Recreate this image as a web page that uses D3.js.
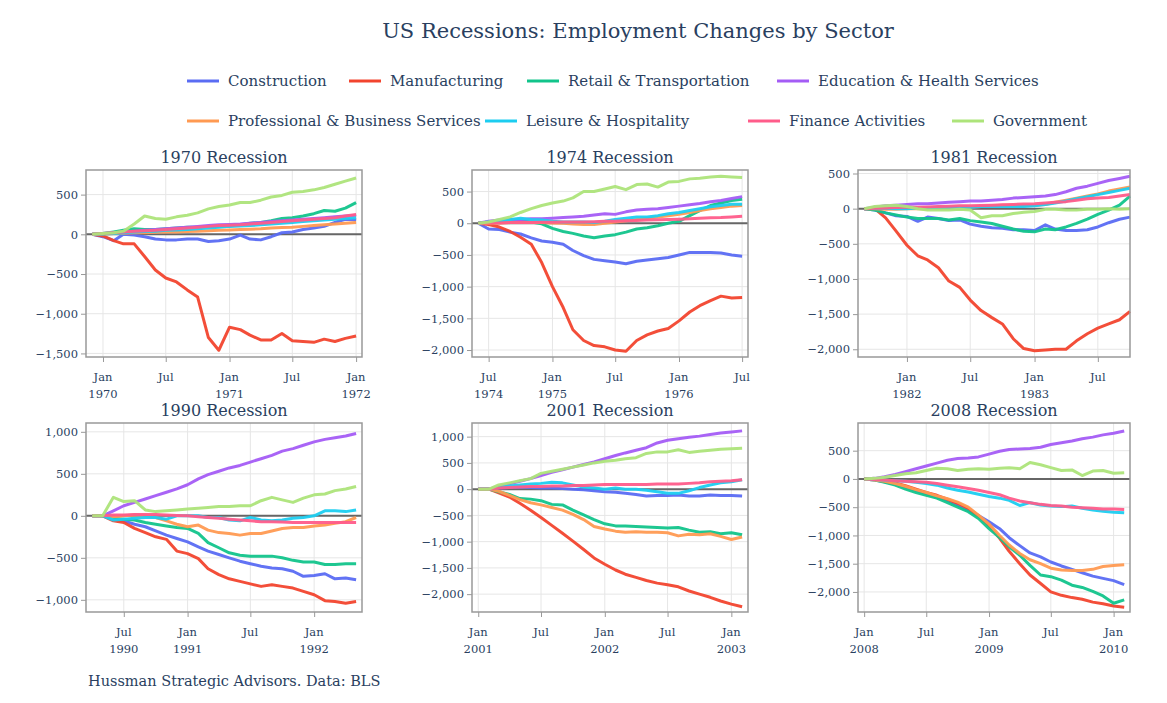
<!DOCTYPE html>
<html><head><meta charset="utf-8">
<script src="https://cdn.jsdelivr.net/npm/d3@7"></script>
<style>body{margin:0;background:#fff}text{font-family:"DejaVu Serif",serif;fill:#2a3f5f}</style>
</head><body><svg id="c" width="1167" height="703"></svg>
<script>
const sectors=["Construction","Manufacturing","Retail & Transportation","Education & Health Services","Professional & Business Services","Leisure & Hospitality","Finance Activities","Government"];
const colors=["#5a6cf3","#f2442e","#12c48b","#a45cf5","#ff9a52","#1ccdf0","#ff5c8a","#ade47a"];
const recessions=["1970 Recession","1974 Recession","1981 Recession","1990 Recession","2001 Recession","2008 Recession"];
const startMonths=["1969-12","1974-06","1981-09","1990-04","2001-01","2008-01"];
const yTicks=[[-1500,-1000,-500,0,500],[-2000,-1500,-1000,-500,0,500],[-2000,-1500,-1000,-500,0,500],[-1000,-500,0,500,1000],[-2000,-1500,-1000,-500,0,500,1000],[-2000,-1500,-1000,-500,0,500]];
const yRanges=[[-1545,810],[-2110,840],[-2110,550],[-1145,1105],[-2340,1260],[-2355,990]];
// values per panel, sector order as above, monthly from start month (26 months)
const r1970=[
[0,-30,-80,0,-10,-30,-60,-70,-70,-60,-60,-90,-80,-60,-10,-60,-70,-30,20,30,60,80,100,150,190,180],
[0,-20,-80,-120,-120,-280,-450,-550,-600,-700,-790,-1300,-1460,-1170,-1200,-1270,-1330,-1330,-1250,-1340,-1350,-1360,-1320,-1350,-1310,-1280],
[0,10,30,50,70,60,60,70,80,90,90,100,100,110,120,140,150,170,200,210,230,260,300,290,330,400],
[0,10,20,30,40,50,60,70,80,90,100,110,120,125,130,140,150,160,170,180,190,200,210,220,230,240],
[0,5,10,15,20,20,25,30,30,35,40,45,50,55,60,65,70,80,85,90,100,110,120,130,140,150],
[0,5,10,20,30,35,40,50,55,60,70,80,90,100,105,110,120,130,140,150,160,170,180,190,200,210],
[0,10,20,30,40,45,50,60,70,80,90,100,110,115,120,130,140,150,160,170,180,190,200,210,230,250],
[0,10,20,40,130,230,200,190,220,240,270,320,350,370,400,400,430,470,490,530,540,560,590,630,670,710]];
const r1974=[
[0,-90,-100,-140,-170,-230,-280,-300,-330,-430,-510,-570,-590,-610,-640,-600,-580,-560,-540,-500,-460,-460,-460,-470,-500,-520],
[0,-20,-60,-130,-220,-330,-620,-1000,-1330,-1680,-1850,-1930,-1950,-2000,-2020,-1850,-1760,-1700,-1660,-1540,-1400,-1300,-1220,-1150,-1180,-1170],
[0,20,30,40,40,20,-10,-80,-130,-160,-200,-230,-200,-180,-140,-90,-70,-40,0,30,120,200,280,320,360,380],
[0,30,50,60,60,70,70,80,90,100,110,130,150,140,180,210,220,230,250,270,290,310,340,360,390,420],
[0,0,5,10,10,10,10,5,0,-10,-20,-20,0,20,40,60,80,100,120,140,170,200,230,250,270,280],
[0,20,40,60,80,60,50,30,20,20,20,10,30,60,80,100,100,120,150,170,200,230,260,280,300,300],
[0,5,5,10,10,10,15,15,20,20,20,25,30,30,40,45,50,55,60,65,70,80,85,90,100,110],
[0,20,60,100,170,230,280,320,350,400,500,500,540,580,530,610,620,570,650,660,700,710,730,740,730,720]];
const r1981=[
[0,-20,-60,-100,-110,-180,-120,-140,-170,-160,-220,-250,-270,-280,-300,-300,-310,-230,-290,-310,-310,-300,-260,-200,-150,-120],
[0,0,-130,-320,-520,-670,-730,-840,-1030,-1120,-1300,-1450,-1550,-1640,-1850,-1990,-2020,-2010,-2000,-2000,-1880,-1780,-1700,-1640,-1580,-1460],
[0,-20,-60,-90,-120,-140,-140,-140,-160,-140,-170,-190,-210,-250,-290,-320,-330,-290,-300,-260,-210,-150,-80,-20,50,180],
[0,20,40,50,60,70,70,80,90,100,110,110,120,130,150,160,170,180,200,240,290,320,360,400,430,460],
[0,0,-10,-10,0,0,0,10,10,20,20,30,40,50,50,40,50,60,90,120,150,180,210,250,280,310],
[0,5,5,0,0,10,10,20,20,20,20,30,30,30,30,30,40,60,80,110,140,170,200,230,260,290],
[0,5,10,15,20,20,25,30,35,40,40,45,50,55,60,65,70,80,90,100,120,140,150,160,180,200],
[0,30,40,50,30,0,-20,-20,-20,-10,-20,-130,-100,-100,-70,-50,-40,-10,-10,-20,-20,-10,-10,0,-10,0]];
const r1990=[
[0,0,-40,-60,-100,-130,-180,-230,-270,-310,-370,-420,-460,-500,-540,-570,-600,-620,-630,-660,-720,-710,-690,-750,-740,-760],
[0,0,-60,-80,-150,-200,-250,-280,-420,-450,-510,-630,-700,-750,-780,-810,-840,-820,-840,-860,-900,-940,-1010,-1020,-1040,-1020],
[0,0,-30,-40,-50,-80,-100,-120,-140,-150,-210,-320,-380,-440,-470,-480,-480,-480,-500,-530,-550,-550,-580,-580,-570,-570],
[0,0,60,120,160,200,240,280,320,370,440,490,530,570,600,640,680,720,770,800,840,880,910,930,950,980],
[0,0,-10,0,10,0,-20,-60,-100,-130,-110,-170,-200,-210,-230,-210,-210,-180,-150,-140,-140,-120,-110,-90,-70,-20],
[0,0,-50,-40,-30,-20,-20,-40,0,0,0,-20,-20,-50,-60,-20,-50,-60,-50,-30,-20,0,60,60,50,70],
[0,0,10,10,15,15,15,10,5,0,-10,-20,-30,-40,-50,-60,-70,-70,-75,-80,-80,-80,-80,-80,-80,-80],
[0,0,220,170,180,70,50,60,70,80,90,100,110,110,120,120,180,220,190,160,210,250,260,300,320,350]];
const r2001=[
[0,0,20,30,40,30,20,20,10,0,-10,-30,-50,-60,-80,-100,-130,-120,-120,-110,-130,-130,-110,-120,-120,-130],
[0,0,-70,-150,-270,-400,-540,-690,-840,-990,-1150,-1310,-1430,-1540,-1620,-1680,-1740,-1790,-1820,-1860,-1940,-2000,-2060,-2130,-2190,-2240],
[0,0,-50,-100,-180,-190,-220,-290,-300,-400,-490,-580,-660,-700,-700,-710,-720,-730,-740,-730,-780,-820,-810,-850,-830,-870],
[0,0,50,100,150,200,260,320,370,420,470,520,580,640,690,740,790,880,930,960,990,1010,1040,1070,1090,1110],
[0,0,-40,-120,-200,-260,-300,-350,-400,-480,-580,-710,-760,-800,-820,-810,-820,-820,-830,-890,-860,-870,-850,-900,-960,-910],
[0,0,30,60,80,100,110,130,120,80,40,20,0,20,0,0,-20,-50,-80,-80,-30,30,80,120,140,180],
[0,0,20,30,40,50,50,60,60,70,70,80,90,90,90,90,90,100,100,100,110,120,140,150,160,180],
[0,0,80,120,160,200,300,340,380,420,460,500,530,550,580,600,680,710,710,750,700,720,740,760,770,780]];
const r2008=[
[0,-20,-50,-90,-140,-200,-260,-320,-380,-460,-560,-650,-760,-880,-1040,-1180,-1310,-1380,-1470,-1540,-1600,-1660,-1720,-1760,-1800,-1870],
[0,-10,-40,-70,-120,-180,-240,-290,-360,-430,-520,-650,-820,-1050,-1280,-1500,-1700,-1850,-2000,-2060,-2100,-2130,-2180,-2210,-2250,-2270],
[0,-20,-60,-110,-180,-240,-290,-340,-420,-500,-580,-700,-880,-1040,-1200,-1350,-1530,-1700,-1730,-1790,-1880,-1920,-1990,-2070,-2200,-2140],
[0,10,40,80,130,180,230,280,330,360,370,390,440,490,520,530,540,560,610,640,670,710,740,780,810,850],
[0,-20,-40,-80,-130,-190,-240,-300,-350,-410,-500,-640,-800,-1000,-1170,-1320,-1430,-1500,-1580,-1610,-1620,-1620,-1600,-1550,-1530,-1520],
[0,-10,-20,-30,-40,-60,-80,-110,-160,-200,-230,-270,-310,-340,-380,-470,-420,-460,-480,-490,-480,-520,-550,-570,-590,-600],
[0,-10,-20,-30,-40,-50,-60,-80,-110,-140,-170,-200,-240,-280,-340,-390,-420,-450,-470,-480,-500,-510,-520,-530,-530,-540],
[0,10,30,60,90,110,150,190,180,150,170,180,170,190,200,180,290,250,200,150,160,60,140,150,100,110]];
const panelData=[r1970,r1974,r1981,r1990,r2001,r2008];

const svg=d3.select("#c");
svg.append("text").attr("x",638).attr("y",38).attr("text-anchor","middle").style("font-size","21px").text("US Recessions: Employment Changes by Sector");
const legX=[[228,390,568,818],[228,526,789,993]];
sectors.forEach((s,i)=>{const row=i<4?0:1, x=legX[row][i%4], y=row?126:86;
 svg.append("line").attr("x1",x-41).attr("x2",x-9).attr("y1",y-5).attr("y2",y-5).attr("stroke",colors[i]).attr("stroke-width",3);
 svg.append("text").attr("x",x).attr("y",y).style("font-size","15px").text(s);});
svg.append("text").attr("x",88).attr("y",686).style("font-size","14.5px").text("Hussman Strategic Advisors. Data: BLS");

const lefts=[86,472,858], rights=[362,748,1130], tops=[170,423], bottoms=[357,612];
const fmt=d3.format(",");
panelData.forEach((pd,p)=>{
 const col=p%3,row=Math.floor(p/3);
 const L=lefts[col],R=rights[col],T=tops[row],B=bottoms[row];
 const t0=d3.timeParse("%Y-%m")(startMonths[p]);
 const dates=d3.range(26).map(i=>d3.timeMonth.offset(t0,i));
 const x=d3.scaleTime().domain([new Date(+dates[0]-18*864e5),new Date(+dates[25]+(p==2?0:17)*864e5)]).range([L,R]);
 const y=d3.scaleLinear().domain(yRanges[p]).range([B,T]);
 const g=svg.append("g");
 const xt=d3.timeMonth.every(6).range(x.domain()[0],x.domain()[1]);
 if(+xt[xt.length-1]<+x.domain()[1] && d3.timeMonth.offset(xt[xt.length-1],6)<=x.domain()[1]) xt.push(d3.timeMonth.offset(xt[xt.length-1],6));
 g.selectAll(".gx").data(xt).join("line").attr("x1",d=>x(d)).attr("x2",d=>x(d)).attr("y1",T).attr("y2",B).attr("stroke","#e6e6e6");
 g.selectAll(".gy").data(yTicks[p]).join("line").attr("x1",L).attr("x2",R).attr("y1",d=>y(d)).attr("y2",d=>y(d)).attr("stroke","#e6e6e6");
 g.append("line").attr("x1",L).attr("x2",R).attr("y1",y(0)).attr("y2",y(0)).attr("stroke","#666").attr("stroke-width",2);
 const line=d3.line().x((d,i)=>x(dates[i])).y(d=>y(d));
 pd.forEach((vals,si)=>g.append("path").attr("d",line(vals)).attr("fill","none").attr("stroke",colors[si]).attr("stroke-width",3).attr("stroke-linejoin","round").attr("opacity",0.95));
 g.append("rect").attr("x",L).attr("y",T).attr("width",R-L).attr("height",B-T).attr("fill","none").attr("stroke","#999").attr("stroke-width",1.5);
 const ya=svg.append("g").attr("transform",`translate(${L},0)`).call(d3.axisLeft(y).tickValues(yTicks[p]).tickFormat(fmt).tickSize(5).tickPadding(3));
 ya.select(".domain").remove(); ya.selectAll("line").attr("stroke","#999");
 ya.selectAll("text").style("font-size","11.5px").style("font-family","DejaVu Serif").attr("fill","#2a3f5f");
 const xa=svg.append("g").attr("transform",`translate(0,${B})`).call(d3.axisBottom(x).tickValues(xt).tickSize(5).tickFormat(""));
 xa.select(".domain").remove(); xa.selectAll("line").attr("stroke","#999");
 xt.forEach((d,i)=>{const tx=svg.append("text").attr("x",x(d)).attr("y",B+24).attr("text-anchor","middle").style("font-size","11.5px");
  tx.append("tspan").attr("x",x(d)).text(d3.timeFormat("%b")(d));
  if(d.getMonth()==0||i==0) tx.append("tspan").attr("x",x(d)).attr("dy",17).text(d3.timeFormat("%Y")(d));});
 svg.append("text").attr("x",(L+R)/2).attr("y",T-7).attr("text-anchor","middle").style("font-size","16px").text(recessions[p]);
});
</script></body></html>
